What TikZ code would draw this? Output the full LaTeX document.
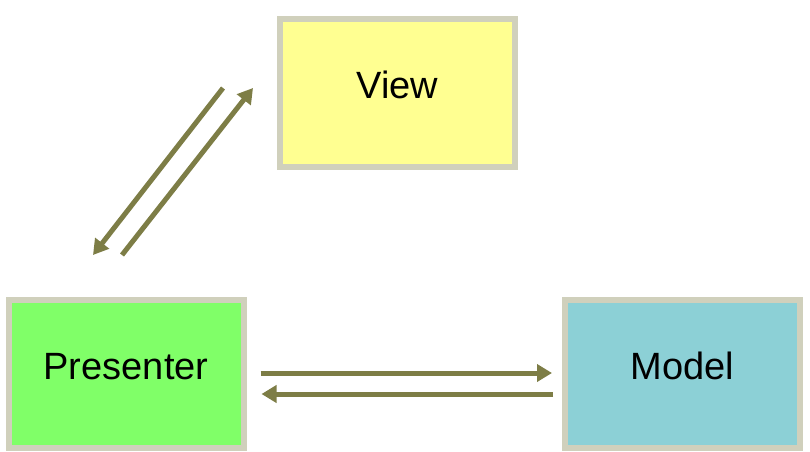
\documentclass[tikz,border=0pt]{standalone}
\usepackage{fontspec}
\setmainfont{Liberation Sans}
\usepackage{xcolor}
\usepackage{tikz}
\usetikzlibrary{arrows.meta, positioning}
\definecolor{box-rim}{RGB}{208,208,188}
\definecolor{view-fill}{RGB}{255,255,145}
\definecolor{pres-fill}{RGB}{128,255,104}
\definecolor{model-fill}{RGB}{140,208,214}
\definecolor{flow-olive}{RGB}{125,125,70}
\tikzstyle{mvpbox} = [rectangle, minimum width=235pt, minimum height=148pt, line width=6pt, draw=box-rim, text depth=16pt, font=\fontsize{38}{40}\selectfont]
\tikzstyle{flow} = [line width=5pt, draw=flow-olive, -{Triangle[length=15pt,width=17pt]}]

\begin{document}
\begin{tikzpicture}[x=1pt, y=1pt]

    % ===============================
    % 1. NODES
    % ===============================
    \useasboundingbox (0,0) rectangle (810,451);

    \node[mvpbox, fill=view-fill] (view) at (397.5, 358) {View};
    \node[mvpbox, fill=pres-fill] (presenter) at (126, 77) {Presenter};
    \node[mvpbox, fill=model-fill] (model) at (682.5, 77) {Model};

    % free ends of the diagonal pair
    \coordinate (vtop1) at (223, 363);
    \coordinate (vbot1) at (93, 196);
    \coordinate (vbot2) at (122, 196);
    \coordinate (vtop2) at (253, 363);

    % ===============================
    % 2. CONNECTIONS
    % ===============================

    % View <-> Presenter
    \draw[flow] (vtop1) -- (vbot1);
    \draw[flow] (vbot2) -- (vtop2);

    % Presenter <-> Model
    \draw[flow, shorten <=14pt, shorten >=10pt] ([yshift=1pt]presenter.east) -- ([yshift=1pt]model.west);
    \draw[flow, shorten <=9pt, shorten >=15pt] ([yshift=-20pt]model.west) -- ([yshift=-20pt]presenter.east);

\end{tikzpicture}
\end{document}
